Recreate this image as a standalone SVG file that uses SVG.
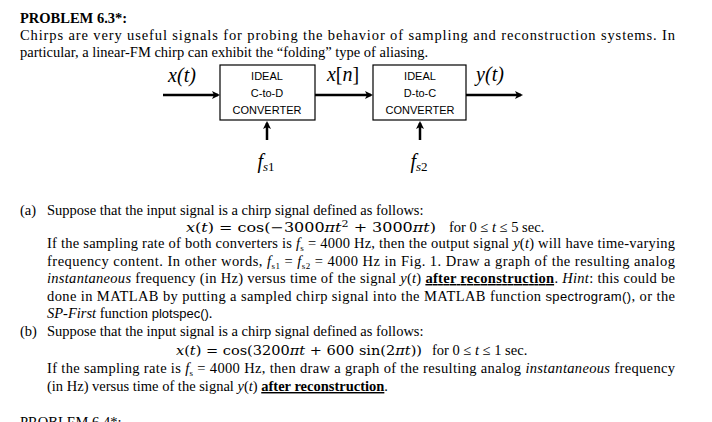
<svg xmlns="http://www.w3.org/2000/svg" width="712" height="422" viewBox="0 0 712 422">
<style>
.t{font-family:"Liberation Serif",serif;font-size:14.5px;fill:#000}
.b{font-weight:bold}
.i{font-style:italic}
.m{font-family:"DejaVu Serif","Liberation Serif",serif;font-size:13px}
.box{fill:#fff;stroke:#000;stroke-width:1.2}
.bl{font-family:"Liberation Sans",Arial,sans-serif;font-size:11px;text-anchor:middle}
.ln{stroke:#000;stroke-width:2.5;fill:none}
.lab{font-family:"Liberation Serif",serif;font-size:20px;font-style:italic;text-anchor:middle}
</style>
<defs><marker id="ah" markerWidth="8" markerHeight="8" refX="6" refY="4" orient="auto" markerUnits="userSpaceOnUse"><path d="M0,0 L8,4 L0,8 L2,4 Z" fill="#000"/></marker></defs>
<rect width="712" height="422" fill="#fff"/>
<text class="t b" x="20" y="23">PROBLEM 6.3*:</text>
<text class="t" x="20" y="40" textLength="655" lengthAdjust="spacing">Chirps are very useful signals for probing the behavior of sampling and reconstruction systems.  In</text>
<text class="t" x="20" y="57">particular, a linear-FM chirp can exhibit the “folding” type of aliasing.</text>
<g id="connectors">
<line class="ln" x1="163" y1="95" x2="218" y2="95" marker-end="url(#ah)"/>
<line class="ln" x1="315" y1="95" x2="371" y2="95" marker-end="url(#ah)"/>
<line class="ln" x1="466" y1="95" x2="521" y2="95" marker-end="url(#ah)"/>
<line class="ln" x1="267" y1="140" x2="267" y2="123" marker-end="url(#ah)" stroke-width="2"/>
<line class="ln" x1="420" y1="140" x2="420" y2="123" marker-end="url(#ah)" stroke-width="2"/>
</g>
<g id="cd"><rect class="box" x="220" y="65" width="95" height="55"/>
<text class="bl" x="267" y="80">IDEAL</text><text class="bl" x="267" y="97">C-to-D</text><text class="bl" x="267" y="114">CONVERTER</text></g>
<g id="dc"><rect class="box" x="373" y="65" width="93" height="55"/>
<text class="bl" x="420" y="80">IDEAL</text><text class="bl" x="420" y="97">D-to-C</text><text class="bl" x="420" y="114">CONVERTER</text></g>
<g id="labels">
<text class="lab" x="182" y="82">x(t)</text>
<text class="lab" x="343" y="81" style="font-style:normal"><tspan font-style="italic">x</tspan>[<tspan font-style="italic">n</tspan>]</text>
<text class="lab" x="490" y="81">y(t)</text>
<text class="lab" x="266" y="168" font-size="23">f<tspan font-size="13" dy="3">s</tspan><tspan font-size="13" font-style="normal">1</tspan></text>
<text class="lab" x="419" y="168" font-size="23">f<tspan font-size="13" dy="3">s</tspan><tspan font-size="13" font-style="normal">2</tspan></text>
</g>
<text class="t" x="20" y="215">(a)</text><text class="t" x="47" y="215">Suppose that the input signal is a chirp signal defined as follows:</text>
<text class="t m" x="186" y="232" textLength="250" lengthAdjust="spacingAndGlyphs"><tspan class="i">x</tspan>(<tspan class="i">t</tspan>) = cos(−3000<tspan class="i">πt</tspan><tspan font-size="9" dy="-5">2</tspan><tspan dy="5"> + 3000</tspan><tspan class="i">πt</tspan>)</text>
<text class="t" x="449" y="232">for 0 ≤ <tspan class="i">t</tspan> ≤ 5 sec.</text>
<text class="t" x="47" y="248" textLength="628" lengthAdjust="spacing">If the sampling rate of both converters is <tspan class="i">f</tspan><tspan font-size="9" dy="3">s</tspan><tspan dy="-3"> = 4000 Hz, then the output signal </tspan><tspan class="i">y</tspan>(<tspan class="i">t</tspan>) will have time-varying</text>
<text class="t" x="47" y="266" textLength="628" lengthAdjust="spacing">frequency content. In other words, <tspan class="i">f</tspan><tspan font-size="9" dy="3">s1</tspan><tspan dy="-3"> = </tspan><tspan class="i">f</tspan><tspan font-size="9" dy="3">s2</tspan><tspan dy="-3"> = 4000 Hz in Fig. 1. Draw a graph of the resulting analog</tspan></text>
<text class="t" x="47" y="283" textLength="628" lengthAdjust="spacing"><tspan class="i">instantaneous</tspan> frequency (in Hz) versus time of the signal <tspan class="i">y</tspan>(<tspan class="i">t</tspan>) <tspan class="b" text-decoration="underline">after reconstruction</tspan>. <tspan class="i">Hint</tspan>: this could be</text>
<text class="t" x="47" y="301" textLength="628" lengthAdjust="spacing">done in MATLAB by putting a sampled chirp signal into the MATLAB function <tspan font-family="Liberation Sans,sans-serif" font-size="13">spectrogram()</tspan>, or the</text>
<text class="t" x="47" y="318"><tspan class="i">SP-First</tspan> function <tspan font-family="Liberation Sans,sans-serif" font-size="13">plotspec()</tspan>.</text>
<text class="t" x="20" y="336">(b)</text><text class="t" x="47" y="336">Suppose that the input signal is a chirp signal defined as follows:</text>
<text class="t m" x="176" y="355" textLength="246" lengthAdjust="spacingAndGlyphs"><tspan class="i">x</tspan>(<tspan class="i">t</tspan>) = cos(3200<tspan class="i">πt</tspan> + 600 sin(2<tspan class="i">πt</tspan>))</text>
<text class="t" x="432" y="355">for 0 ≤ <tspan class="i">t</tspan> ≤ 1 sec.</text>
<text class="t" x="47" y="373" textLength="628" lengthAdjust="spacing">If the sampling rate is <tspan class="i">f</tspan><tspan font-size="9" dy="3">s</tspan><tspan dy="-3"> = 4000 Hz, then draw a graph of the resulting analog </tspan><tspan class="i">instantaneous</tspan> frequency</text>
<text class="t" x="47" y="391">(in Hz) versus time of the signal <tspan class="i">y</tspan>(<tspan class="i">t</tspan>) <tspan class="b" text-decoration="underline">after reconstruction</tspan>.</text>
<text class="t" x="20" y="427">PROBLEM 6.4*:</text>
</svg>
